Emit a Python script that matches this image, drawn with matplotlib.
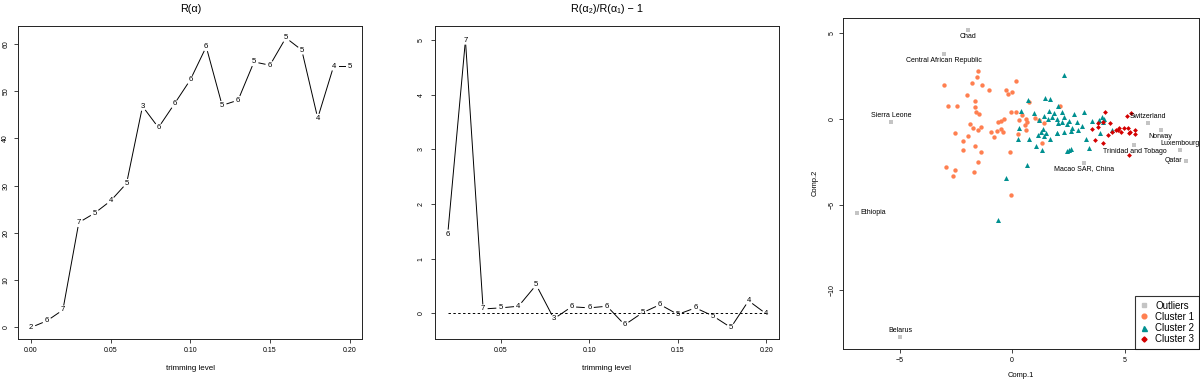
import numpy as np
import matplotlib
matplotlib.use("Agg")
import matplotlib.pyplot as plt
from matplotlib.lines import Line2D

plt.rcParams['font.family'] = ['Liberation Sans', 'DejaVu Sans']
plt.rcParams['axes.unicode_minus'] = True

# ---------------- data ----------------
trim = [0.00, 0.01, 0.02, 0.03, 0.04, 0.05, 0.06, 0.07, 0.08, 0.09, 0.10,
        0.11, 0.12, 0.13, 0.14, 0.15, 0.16, 0.17, 0.18, 0.19, 0.20]
R_alpha = [0.0, 1.4, 3.7, 22.2, 24.2, 26.8, 30.5, 46.8, 42.3, 47.3, 52.4,
           59.4, 47.0, 48.1, 56.2, 55.5, 61.3, 58.7, 44.3, 55.3, 55.3]
R_labels = ['2', '6', '7', '7', '5', '4', '5', '3', '6', '6', '6',
            '6', '5', '6', '5', '6', '5', '5', '4', '4', '5']

trim2 = [0.02, 0.03, 0.04, 0.05, 0.06, 0.07, 0.08, 0.09, 0.10, 0.11,
         0.12, 0.13, 0.14, 0.15, 0.16, 0.17, 0.18, 0.19, 0.20]
ratio = [1.45, 5.0, 0.08, 0.10, 0.13, 0.52, -0.10, 0.12, 0.10, 0.13,
         -0.21, 0.01, 0.16, -0.02, 0.10, -0.05, -0.26, 0.23, -0.01]
ratio_labels = ['6', '7', '7', '5', '4', '5', '3', '6', '6', '6',
                '6', '5', '6', '5', '6', '5', '5', '4', '4']

outlier_names = ['Chad', 'Central African Republic', 'Sierra Leone', 'Ethiopia',
                 'Belarus', 'Macao SAR, China', 'Switzerland', 'Norway',
                 'Trinidad and Tobago', 'Luxembourg', 'Qatar']
outlier_x = [-1.96, -3.02, -5.36, -6.90, -4.98, 3.21, 6.06, 6.61, 5.44, 7.45, 7.73]
outlier_y = [5.18, 3.79, -0.18, -5.49, -12.72, -2.55, -0.21, -0.64, -1.54, -1.81, -2.45]

c1_x = [-1.50, -1.57, -3.04, -1.78, -1.33, 0.19, -1.04, -0.27, -0.16, -0.02,
        -2.00, -1.63, -2.83, -2.43, -1.66, -1.59, -1.45, -0.04, 0.19, 0.30,
        0.64, 0.68, 0.59, 1.04, -0.37, -0.50, -0.62, -1.88, -1.72, -1.39,
        -1.50, -0.50, -0.68, -0.39, -0.93, -0.81, 0.61, -2.53, -1.96, -2.16,
        -1.63, -2.18, -1.38, -0.10, -1.50, -2.92, -2.53, -2.64, -1.69, -0.06,
        0.76, 0.46, 1.19, 1.41, 2.13, 0.27, 1.33]
c1_y = [2.80, 2.47, 1.97, 2.10, 1.98, 2.24, 1.69, 1.71, 1.48, 1.58,
        1.42, 1.05, 0.74, 0.74, 0.70, 0.39, 0.27, 0.41, 0.41, -0.06,
        0.02, -0.15, -0.33, 0.04, 0.00, -0.10, -0.18, -0.31, -0.53, -0.47,
        -0.64, -0.57, -0.72, -0.74, -0.78, -1.03, -0.65, -0.80, -0.99, -1.27,
        -1.58, -1.81, -1.93, -1.95, -2.49, -2.78, -3.00, -3.31, -3.09, -4.42,
        1.00, 0.25, -0.08, -0.23, 0.74, -0.88, -1.38]

c2_x = [2.30, 1.48, 1.69, 0.70, 2.06, 0.40, 0.96, 1.66, 1.88, 1.44,
        1.79, 1.21, 1.59, 1.99, 2.03, 0.33, 1.39, 1.29, 1.50, 1.99,
        1.16, 1.41, 0.25, 0.76, 1.69, 1.05, 1.33, 2.24, 2.76, 3.20,
        3.99, 2.32, 2.55, 2.90, 3.54, 3.88, 4.03, 2.21, 2.43, 2.65,
        2.62, 2.95, 3.10, 2.01, 2.32, 3.30, 2.44, 2.55, 2.62, 3.42,
        0.68, -0.27, -0.61, 3.91, 4.46, 4.10]
c2_y = [2.55, 1.21, 1.16, 1.09, 0.78, 0.45, 0.33, 0.45, 0.33, 0.18,
        0.14, -0.06, -0.02, 0.00, -0.25, -0.51, -0.60, -0.74, -0.80, -0.80,
        -0.93, -0.99, -1.15, -1.15, -1.19, -1.58, -1.81, 0.43, 0.29, 0.41,
        0.14, 0.14, -0.10, -0.18, -0.10, -0.06, -0.19, -0.19, -0.29, -0.53,
        -0.68, -0.64, -0.41, -0.84, -0.74, -1.15, -1.87, -1.81, -1.75, -1.71,
        -2.67, -3.42, -5.90, -0.80, -0.64, 0.00]

c3_x = [4.12, 5.11, 5.29, 3.56, 3.81, 3.84, 4.05, 4.37, 3.70, 4.03,
        4.28, 4.44, 4.61, 4.71, 4.77, 4.85, 4.98, 5.15, 5.18, 5.26,
        5.48, 5.48, 5.21]
c3_y = [0.40, 0.16, 0.37, -0.60, -0.46, -0.25, -0.20, -0.25, -1.25, -1.43,
        -0.93, -0.78, -0.64, -0.62, -0.51, -0.74, -0.51, -0.51, -0.80, -0.78,
        -0.62, -0.86, -2.10]

legend_labels = ['Outliers', 'Cluster 1', 'Cluster 2', 'Cluster 3']

# ---------------- style ----------------
W, H = 1200, 381
fig = plt.figure(figsize=(W / 100, H / 100), dpi=100)

SPINE = '#222222'
TICK_FS = 5.0
LBL_FS = 5.6


def box_axes(l, t, r, b):
    return fig.add_axes([l / W, (H - b) / H, (r - l) / W, (b - t) / H])


def style(ax):
    for s in ax.spines.values():
        s.set_linewidth(0.7)
        s.set_color(SPINE)
    ax.tick_params(direction='out', length=3, width=0.6, color=SPINE,
                   labelsize=TICK_FS, pad=2.5)
    for lab in ax.get_yticklabels():
        lab.set_rotation(90)
        lab.set_va('center')


def gapped(ax, xs, ys, labels, gap=5.0):
    pts = ax.transData.transform(np.column_stack([xs, ys]))
    inv = ax.transData.inverted()
    for p0, p1 in zip(pts[:-1], pts[1:]):
        d = p1 - p0
        L = np.hypot(*d)
        if L <= 2 * gap + 1:
            continue
        u = d / L
        seg = inv.transform(np.array([p0 + u * gap, p1 - u * gap]))
        ax.plot(seg[:, 0], seg[:, 1], color='black', lw=0.7)
    for x, y, s in zip(xs, ys, labels):
        ax.text(x, y, s, ha='center', va='center', fontsize=LBL_FS)


# ---------- panel 1 ----------
ax1 = box_axes(18.3, 26, 362.3, 339)
ax1.set_xlim(-0.008, 0.208)
ax1.set_ylim(-2.45, 63.8)
ax1.set_xticks([0.00, 0.05, 0.10, 0.15, 0.20])
ax1.set_xticklabels(['0.00', '0.05', '0.10', '0.15', '0.20'])
ax1.set_yticks([0, 10, 20, 30, 40, 50, 60])
style(ax1)
ax1.tick_params(axis='y', pad=3.5)
gapped(ax1, trim, R_alpha, R_labels)
ax1.set_title('R(α)', fontsize=7.8, pad=10)
ax1.set_xlabel('trimming level', fontsize=5.8, labelpad=8)

# ---------- panel 2 ----------
ax2 = box_axes(435, 26, 779, 339)
ax2.set_xlim(0.0128, 0.2072)
ax2.set_ylim(-0.47, 5.26)
ax2.set_xticks([0.05, 0.10, 0.15, 0.20])
ax2.set_xticklabels(['0.05', '0.10', '0.15', '0.20'])
ax2.set_yticks([0, 1, 2, 3, 4, 5])
style(ax2)
ax2.tick_params(axis='y', pad=4.5)
ax2.plot([trim2[0], trim2[-1]], [0, 0], color='black', lw=0.7,
         linestyle=(0, (2.5, 2.5)))
gapped(ax2, trim2, ratio, ratio_labels)
ax2.set_title('R(α₂)/R(α₁) − 1', fontsize=7.8, pad=10)
ax2.set_xlabel('trimming level', fontsize=5.8, labelpad=8)

# ---------- panel 3 ----------
ax3 = box_axes(843.3, 17.7, 1199, 349)
ax3.set_xlim(-7.5, 8.31)
ax3.set_ylim(-13.43, 5.91)
ax3.set_xticks([-5, 0, 5])
ax3.set_yticks([5, 0, -5, -10])
style(ax3)

GRAY = '#c4c4c4'
ORANGE = '#ff7f50'
TEAL = '#009090'
RED = '#d40000'

ax3.scatter(outlier_x, outlier_y, marker='s', s=8, color=GRAY, linewidths=0, zorder=3)
ax3.scatter(c1_x, c1_y, marker='o', s=10, color=ORANGE, linewidths=0, zorder=3)
ax3.scatter(c2_x, c2_y, marker='^', s=13, color=TEAL, linewidths=0, zorder=3)
ax3.scatter(c3_x, c3_y, marker='D', s=6, color=RED, linewidths=0, zorder=3)

# label placement: R-style pos (1 below, 2 left, 3 above, 4 right)
pos = [1, 1, 3, 4, 3, 1, 3, 1, 1, 3, 2]
off = 4.4
for name, x, y, p in zip(outlier_names, outlier_x, outlier_y, pos):
    dx, dy, ha, va = {1: (0, -off, 'center', 'center'),
                      2: (-off + 1.5, 0, 'right', 'center'),
                      3: (0, off, 'center', 'center'),
                      4: (off - 1.5, 0, 'left', 'center')}[p]
    ax3.annotate(name, (x, y), xytext=(dx, dy), textcoords='offset points',
                 ha=ha, va=va, fontsize=5.0)

ax3.set_xlabel('Comp.1', fontsize=5.4, labelpad=6)
ax3.set_ylabel('Comp.2', fontsize=5.4, labelpad=7)

handles = [
    Line2D([], [], marker='s', color=GRAY, ls='', markersize=3.2),
    Line2D([], [], marker='o', color=ORANGE, ls='', markersize=3.4),
    Line2D([], [], marker='^', color=TEAL, ls='', markersize=3.6),
    Line2D([], [], marker='D', color=RED, ls='', markersize=2.6),
]
leg = ax3.legend(handles, legend_labels, loc='lower right', fontsize=7.0,
                 frameon=True, fancybox=False, borderaxespad=0,
                 handlelength=1.0, handletextpad=0.6, labelspacing=0.12,
                 borderpad=0.5, edgecolor='black')
leg.get_frame().set_linewidth(0.8)

fig.savefig('out.png', dpi=100)
